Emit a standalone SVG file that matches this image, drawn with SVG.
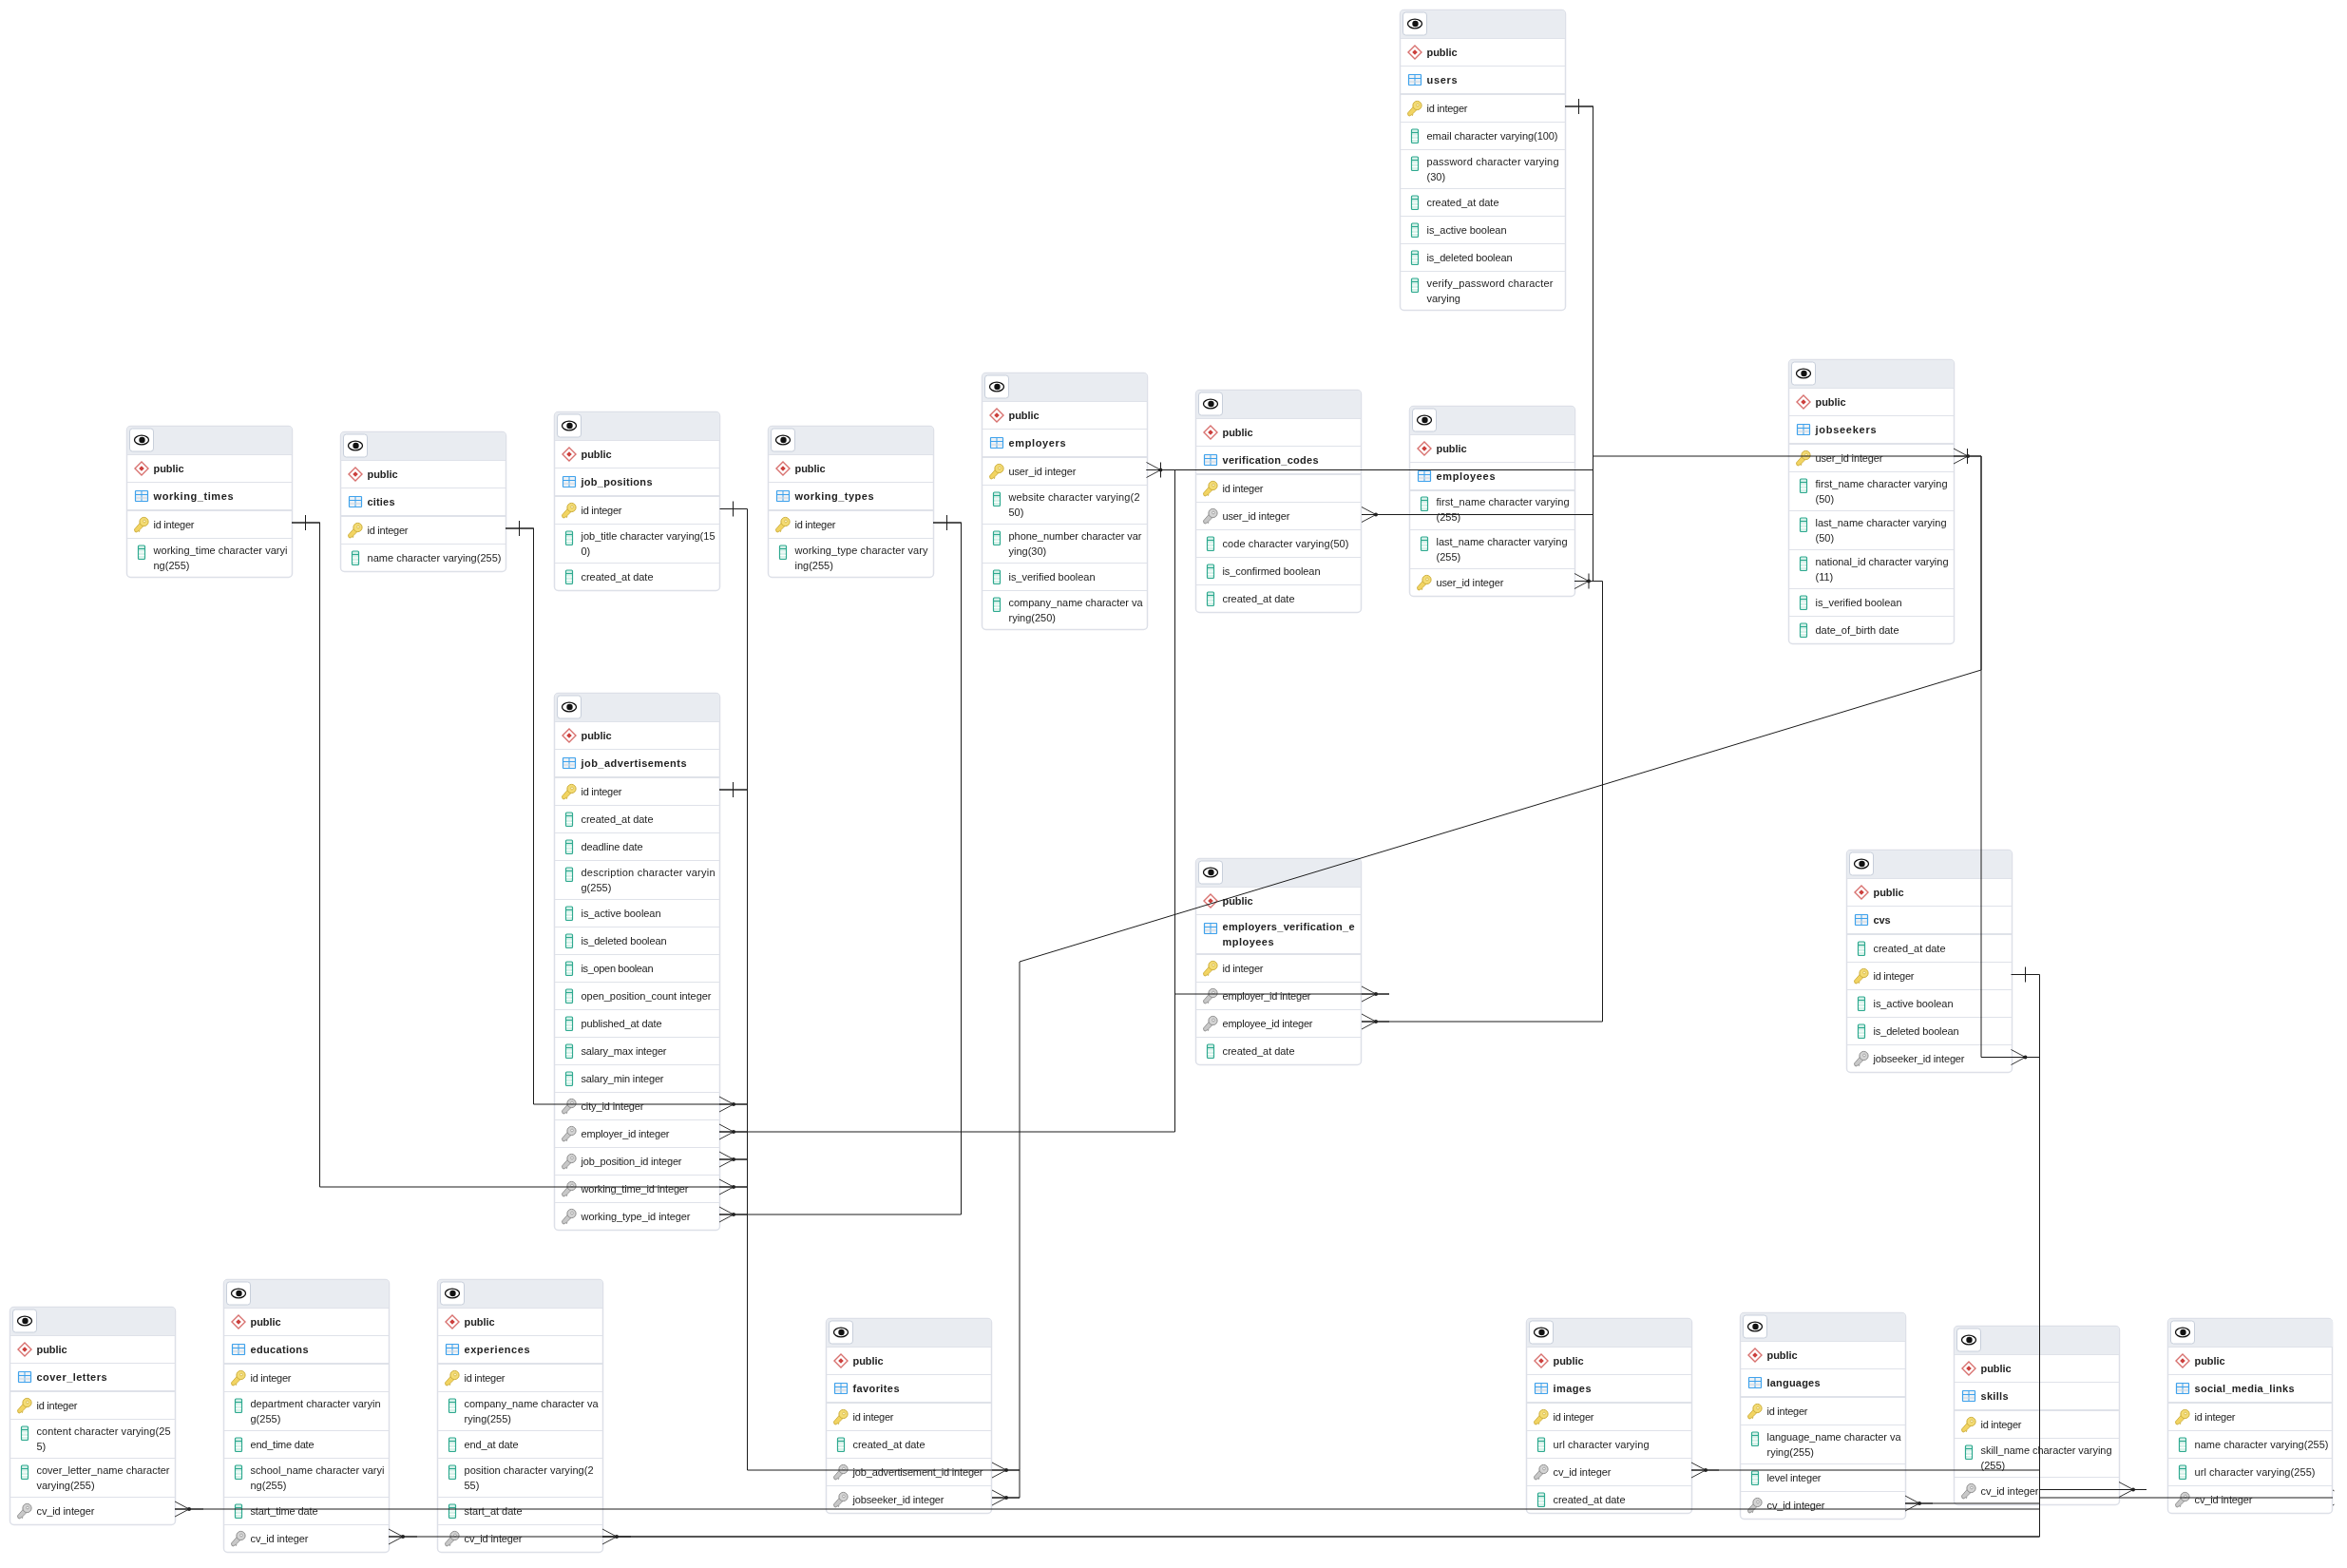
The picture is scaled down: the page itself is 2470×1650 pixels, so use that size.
<svg xmlns="http://www.w3.org/2000/svg" width="2470" height="1650" viewBox="0 0 2470 1650">
<style>
text{font-family:"Liberation Sans",Arial,sans-serif;font-size:11px;fill:#222}
.b{font-weight:700}
.box{fill:#fff;stroke:#dde0e8;stroke-width:1.5}
.hd{fill:#e9ecf1}
.eb{fill:#fff;stroke:#c8cfdb;stroke-width:1}
.sep{fill:none;stroke:#dfe2e9;stroke-width:1}
.bar{fill:#dfe2e9}
.l{fill:none;stroke:#1c1c1c;stroke-width:1}
.a{fill:none;stroke:#333;stroke-width:1}
</style>
<defs>
<g id="eye"><rect class="eb" x="-12.5" y="-12" width="25" height="24" rx="3"/><ellipse cx="0" cy="0" rx="7.5" ry="4.8" fill="#fff" stroke="#111" stroke-width="1.3"/><circle cx=".5" cy="0" r="3.2" fill="#111"/></g>
<g id="sc"><path d="M0-7L7 0L0 7L-7 0Z" fill="#fff" stroke="#d8716f" stroke-width="1.4"/><path d="M0-2.8L2.8 0L0 2.8L-2.8 0Z" fill="#cc3f3c"/></g>
<g id="tb"><rect x="-6.5" y="-5.5" width="13" height="11" rx=".5" fill="#eef2f6" stroke="#3fa2ec" stroke-width="1.2"/><path d="M-6-1.5H6M0-5V5" stroke="#3fa2ec" stroke-width="1" fill="none"/><path d="M-6 2H6" stroke="#ccd6e0" stroke-width="1"/></g>
<g id="pk"><path d="M-1-2.5L2.5 1L-2 5.5L-2.5 7.5L-4 6.5L-5 8L-7 7.5L-7.5 5Z" fill="#f2d462" stroke="#cdae3c" stroke-width=".9"/><circle cx="2.5" cy="-3" r="4.6" fill="#f4dc74" stroke="#cdae3c" stroke-width="1"/><circle cx="3" cy="-3.5" r="1.4" fill="#fff6c8" stroke="#cdae3c" stroke-width=".7"/></g>
<g id="fk"><path d="M-1-2.5L2.5 1L-2 5.5L-2.5 7.5L-4 6.5L-5 8L-7 7.5L-7.5 5Z" fill="#c8c8c8" stroke="#8e8e8e" stroke-width=".9"/><circle cx="2.5" cy="-3" r="4.6" fill="#d4d4d4" stroke="#8e8e8e" stroke-width="1"/><circle cx="3" cy="-3.5" r="1.4" fill="#f4f4f4" stroke="#8e8e8e" stroke-width=".7"/></g>
<g id="c"><rect x="-3.5" y="-7" width="7" height="14.5" rx="1" fill="#d8f2ea" stroke="#2ea98f" stroke-width="1.2"/><path d="M-3-3.5H3" stroke="#2ea98f" stroke-width="1.1"/><path d="M-3 0H3M-3 3.5H3" stroke="#fff" stroke-width="1"/></g>
<g id="crow"><path class="a" d="M0-8L15 0L0 8"/><circle cx="15" cy="0" r="2" fill="#222"/></g>
<path id="tick" class="l" d="M0-8V8"/>
<path id="top" class="hd" d="M1 4a3 3 0 0 1 3-3H171a3 3 0 0 1 3 3V30H1Z"/>
<g id="head"><use href="#top"/><use href="#eye" x="16" y="15"/><path class="sep" d="M1 30.5H174M1 59.5H174"/><use href="#sc" x="16" y="45"/><text class="b" x="28.5" y="49" textLength="32">public</text></g>
<g id="nm"><rect class="bar" x="1" y="88" width="173" height="2"/><use href="#tb" x="16" y="74"/></g>
</defs>
<rect width="2470" height="1650" fill="#fff"/>
<g opacity="0.999">

<g id="users" transform="translate(1473,10)"><rect class="box" x=".5" y=".5" width="174" height="316" rx="4"/><use href="#head"/><use href="#nm"/><text class="b" x="28.5" y="78" textLength="32">users</text>
<path class="sep" d="M1 118.5H174M1 147.5H174M1 188.5H174M1 217.5H174M1 246.5H174M1 275.5H174"/>
<use href="#pk" x="16" y="104"/><text x="28.5" y="108" textLength="43">id integer</text>
<use href="#c" x="16" y="133"/><text x="28.5" y="137" textLength="138">email character varying(100)</text>
<use href="#c" x="16" y="162"/><text x="28.5" y="164" textLength="139">password character varying</text><text x="28.5" y="180">(30)</text>
<use href="#c" x="16" y="203"/><text x="28.5" y="207" textLength="76">created_at date</text>
<use href="#c" x="16" y="232"/><text x="28.5" y="236" textLength="84">is_active boolean</text>
<use href="#c" x="16" y="261"/><text x="28.5" y="265" textLength="90">is_deleted boolean</text>
<use href="#c" x="16" y="290"/><text x="28.5" y="292" textLength="133">verify_password character</text><text x="28.5" y="308">varying</text></g>

<g id="working_times" transform="translate(133,448)"><rect class="box" x=".5" y=".5" width="174" height="159" rx="4"/><use href="#head"/><use href="#nm"/><text class="b" x="28.5" y="78" textLength="84">working_times</text>
<path class="sep" d="M1 118.5H174"/>
<use href="#pk" x="16" y="104"/><text x="28.5" y="108" textLength="43">id integer</text>
<use href="#c" x="16" y="133"/><text x="28.5" y="135" textLength="141">working_time character varyi</text><text x="28.5" y="151">ng(255)</text></g>

<g id="cities" transform="translate(358,454)"><rect class="box" x=".5" y=".5" width="174" height="147" rx="4"/><use href="#head"/><use href="#nm"/><text class="b" x="28.5" y="78" textLength="29">cities</text>
<path class="sep" d="M1 118.5H174"/>
<use href="#pk" x="16" y="104"/><text x="28.5" y="108" textLength="43">id integer</text>
<use href="#c" x="16" y="133"/><text x="28.5" y="137" textLength="141">name character varying(255)</text></g>

<g id="job_positions" transform="translate(583,433)"><rect class="box" x=".5" y=".5" width="174" height="188" rx="4"/><use href="#head"/><use href="#nm"/><text class="b" x="28.5" y="78" textLength="75">job_positions</text>
<path class="sep" d="M1 118.5H174M1 159.5H174"/>
<use href="#pk" x="16" y="104"/><text x="28.5" y="108" textLength="43">id integer</text>
<use href="#c" x="16" y="133"/><text x="28.5" y="135" textLength="141">job_title character varying(15</text><text x="28.5" y="151">0)</text>
<use href="#c" x="16" y="174"/><text x="28.5" y="178" textLength="76">created_at date</text></g>

<g id="working_types" transform="translate(808,448)"><rect class="box" x=".5" y=".5" width="174" height="159" rx="4"/><use href="#head"/><use href="#nm"/><text class="b" x="28.5" y="78" textLength="83">working_types</text>
<path class="sep" d="M1 118.5H174"/>
<use href="#pk" x="16" y="104"/><text x="28.5" y="108" textLength="43">id integer</text>
<use href="#c" x="16" y="133"/><text x="28.5" y="135" textLength="140">working_type character vary</text><text x="28.5" y="151">ing(255)</text></g>

<g id="employers" transform="translate(1033,392)"><rect class="box" x=".5" y=".5" width="174" height="270" rx="4"/><use href="#head"/><use href="#nm"/><text class="b" x="28.5" y="78" textLength="60">employers</text>
<path class="sep" d="M1 118.5H174M1 159.5H174M1 200.5H174M1 229.5H174"/>
<use href="#pk" x="16" y="104"/><text x="28.5" y="108" textLength="71">user_id integer</text>
<use href="#c" x="16" y="133"/><text x="28.5" y="135" textLength="138">website character varying(2</text><text x="28.5" y="151">50)</text>
<use href="#c" x="16" y="174"/><text x="28.5" y="176" textLength="140">phone_number character var</text><text x="28.5" y="192">ying(30)</text>
<use href="#c" x="16" y="215"/><text x="28.5" y="219" textLength="91">is_verified boolean</text>
<use href="#c" x="16" y="244"/><text x="28.5" y="246" textLength="141">company_name character va</text><text x="28.5" y="262">rying(250)</text></g>

<g id="verification_codes" transform="translate(1258,410)"><rect class="box" x=".5" y=".5" width="174" height="234" rx="4"/><use href="#head"/><use href="#nm"/><text class="b" x="28.5" y="78" textLength="101">verification_codes</text>
<path class="sep" d="M1 118.5H174M1 147.5H174M1 176.5H174M1 205.5H174"/>
<use href="#pk" x="16" y="104"/><text x="28.5" y="108" textLength="43">id integer</text>
<use href="#fk" x="16" y="133"/><text x="28.5" y="137" textLength="71">user_id integer</text>
<use href="#c" x="16" y="162"/><text x="28.5" y="166" textLength="133">code character varying(50)</text>
<use href="#c" x="16" y="191"/><text x="28.5" y="195" textLength="103">is_confirmed boolean</text>
<use href="#c" x="16" y="220"/><text x="28.5" y="224" textLength="76">created_at date</text></g>

<g id="employees" transform="translate(1483,427)"><rect class="box" x=".5" y=".5" width="174" height="200" rx="4"/><use href="#head"/><use href="#nm"/><text class="b" x="28.5" y="78" textLength="62">employees</text>
<path class="sep" d="M1 130.5H174M1 171.5H174"/>
<use href="#c" x="16" y="103"/><text x="28.5" y="105" textLength="140">first_name character varying</text><text x="28.5" y="121">(255)</text>
<use href="#c" x="16" y="145"/><text x="28.5" y="147" textLength="138">last_name character varying</text><text x="28.5" y="163">(255)</text>
<use href="#pk" x="16" y="186"/><text x="28.5" y="190" textLength="71">user_id integer</text></g>

<g id="jobseekers" transform="translate(1882,378)"><rect class="box" x=".5" y=".5" width="174" height="299" rx="4"/><use href="#head"/><use href="#nm"/><text class="b" x="28.5" y="78" textLength="64">jobseekers</text>
<path class="sep" d="M1 118.5H174M1 159.5H174M1 200.5H174M1 241.5H174M1 270.5H174"/>
<use href="#pk" x="16" y="104"/><text x="28.5" y="108" textLength="71">user_id integer</text>
<use href="#c" x="16" y="133"/><text x="28.5" y="135" textLength="139">first_name character varying</text><text x="28.5" y="151">(50)</text>
<use href="#c" x="16" y="174"/><text x="28.5" y="176" textLength="138">last_name character varying</text><text x="28.5" y="192">(50)</text>
<use href="#c" x="16" y="215"/><text x="28.5" y="217" textLength="140">national_id character varying</text><text x="28.5" y="233">(11)</text>
<use href="#c" x="16" y="256"/><text x="28.5" y="260" textLength="91">is_verified boolean</text>
<use href="#c" x="16" y="285"/><text x="28.5" y="289" textLength="88">date_of_birth date</text></g>

<g id="job_advertisements" transform="translate(583,729)"><rect class="box" x=".5" y=".5" width="174" height="565" rx="4"/><use href="#head"/><use href="#nm"/><text class="b" x="28.5" y="78" textLength="111">job_advertisements</text>
<path class="sep" d="M1 118.5H174M1 147.5H174M1 176.5H174M1 217.5H174M1 246.5H174M1 275.5H174M1 304.5H174M1 333.5H174M1 362.5H174M1 391.5H174M1 420.5H174M1 449.5H174M1 478.5H174M1 507.5H174M1 536.5H174"/>
<use href="#pk" x="16" y="104"/><text x="28.5" y="108" textLength="43">id integer</text>
<use href="#c" x="16" y="133"/><text x="28.5" y="137" textLength="76">created_at date</text>
<use href="#c" x="16" y="162"/><text x="28.5" y="166" textLength="65">deadline date</text>
<use href="#c" x="16" y="191"/><text x="28.5" y="193" textLength="141">description character varyin</text><text x="28.5" y="209">g(255)</text>
<use href="#c" x="16" y="232"/><text x="28.5" y="236" textLength="84">is_active boolean</text>
<use href="#c" x="16" y="261"/><text x="28.5" y="265" textLength="90">is_deleted boolean</text>
<use href="#c" x="16" y="290"/><text x="28.5" y="294" textLength="76">is_open boolean</text>
<use href="#c" x="16" y="319"/><text x="28.5" y="323" textLength="137">open_position_count integer</text>
<use href="#c" x="16" y="348"/><text x="28.5" y="352" textLength="85">published_at date</text>
<use href="#c" x="16" y="377"/><text x="28.5" y="381" textLength="90">salary_max integer</text>
<use href="#c" x="16" y="406"/><text x="28.5" y="410" textLength="87">salary_min integer</text>
<use href="#fk" x="16" y="435"/><text x="28.5" y="439" textLength="66">city_id integer</text>
<use href="#fk" x="16" y="464"/><text x="28.5" y="468" textLength="93">employer_id integer</text>
<use href="#fk" x="16" y="493"/><text x="28.5" y="497" textLength="106">job_position_id integer</text>
<use href="#fk" x="16" y="522"/><text x="28.5" y="526" textLength="113">working_time_id integer</text>
<use href="#fk" x="16" y="551"/><text x="28.5" y="555" textLength="115">working_type_id integer</text></g>

<g id="employers_verification_employees" transform="translate(1258,903)"><rect class="box" x=".5" y=".5" width="174" height="217" rx="4"/><use href="#head"/><rect class="bar" x="1" y="100" width="173" height="2"/><use href="#tb" x="16" y="74"/><text class="b" x="28.5" y="76" textLength="139">employers_verification_e</text><text class="b" x="28.5" y="92" textLength="54">mployees</text>
<path class="sep" d="M1 130.5H174M1 159.5H174M1 188.5H174"/>
<use href="#pk" x="16" y="116"/><text x="28.5" y="120" textLength="43">id integer</text>
<use href="#fk" x="16" y="145"/><text x="28.5" y="149" textLength="93">employer_id integer</text>
<use href="#fk" x="16" y="174"/><text x="28.5" y="178" textLength="95">employee_id integer</text>
<use href="#c" x="16" y="203"/><text x="28.5" y="207" textLength="76">created_at date</text></g>

<g id="cvs" transform="translate(1943,894)"><rect class="box" x=".5" y=".5" width="174" height="234" rx="4"/><use href="#head"/><use href="#nm"/><text class="b" x="28.5" y="78" textLength="18">cvs</text>
<path class="sep" d="M1 118.5H174M1 147.5H174M1 176.5H174M1 205.5H174"/>
<use href="#c" x="16" y="104"/><text x="28.5" y="108" textLength="76">created_at date</text>
<use href="#pk" x="16" y="133"/><text x="28.5" y="137" textLength="43">id integer</text>
<use href="#c" x="16" y="162"/><text x="28.5" y="166" textLength="84">is_active boolean</text>
<use href="#c" x="16" y="191"/><text x="28.5" y="195" textLength="90">is_deleted boolean</text>
<use href="#fk" x="16" y="220"/><text x="28.5" y="224" textLength="96">jobseeker_id integer</text></g>

<g id="cover_letters" transform="translate(10,1375)"><rect class="box" x=".5" y=".5" width="174" height="229" rx="4"/><use href="#head"/><use href="#nm"/><text class="b" x="28.5" y="78" textLength="74">cover_letters</text>
<path class="sep" d="M1 118.5H174M1 159.5H174M1 200.5H174"/>
<use href="#pk" x="16" y="104"/><text x="28.5" y="108" textLength="43">id integer</text>
<use href="#c" x="16" y="133"/><text x="28.5" y="135" textLength="141">content character varying(25</text><text x="28.5" y="151">5)</text>
<use href="#c" x="16" y="174"/><text x="28.5" y="176" textLength="140">cover_letter_name character</text><text x="28.5" y="192">varying(255)</text>
<use href="#fk" x="16" y="215"/><text x="28.5" y="219" textLength="61">cv_id integer</text></g>

<g id="educations" transform="translate(235,1346)"><rect class="box" x=".5" y=".5" width="174" height="287" rx="4"/><use href="#head"/><use href="#nm"/><text class="b" x="28.5" y="78" textLength="61">educations</text>
<path class="sep" d="M1 118.5H174M1 159.5H174M1 188.5H174M1 229.5H174M1 258.5H174"/>
<use href="#pk" x="16" y="104"/><text x="28.5" y="108" textLength="43">id integer</text>
<use href="#c" x="16" y="133"/><text x="28.5" y="135" textLength="137">department character varyin</text><text x="28.5" y="151">g(255)</text>
<use href="#c" x="16" y="174"/><text x="28.5" y="178" textLength="67">end_time date</text>
<use href="#c" x="16" y="203"/><text x="28.5" y="205" textLength="141">school_name character varyi</text><text x="28.5" y="221">ng(255)</text>
<use href="#c" x="16" y="244"/><text x="28.5" y="248" textLength="71">start_time date</text>
<use href="#fk" x="16" y="273"/><text x="28.5" y="277" textLength="61">cv_id integer</text></g>

<g id="experiences" transform="translate(460,1346)"><rect class="box" x=".5" y=".5" width="174" height="287" rx="4"/><use href="#head"/><use href="#nm"/><text class="b" x="28.5" y="78" textLength="69">experiences</text>
<path class="sep" d="M1 118.5H174M1 159.5H174M1 188.5H174M1 229.5H174M1 258.5H174"/>
<use href="#pk" x="16" y="104"/><text x="28.5" y="108" textLength="43">id integer</text>
<use href="#c" x="16" y="133"/><text x="28.5" y="135" textLength="141">company_name character va</text><text x="28.5" y="151">rying(255)</text>
<use href="#c" x="16" y="174"/><text x="28.5" y="178" textLength="57">end_at date</text>
<use href="#c" x="16" y="203"/><text x="28.5" y="205" textLength="136">position character varying(2</text><text x="28.5" y="221">55)</text>
<use href="#c" x="16" y="244"/><text x="28.5" y="248" textLength="61">start_at date</text>
<use href="#fk" x="16" y="273"/><text x="28.5" y="277" textLength="61">cv_id integer</text></g>

<g id="favorites" transform="translate(869,1387)"><rect class="box" x=".5" y=".5" width="174" height="205" rx="4"/><use href="#head"/><use href="#nm"/><text class="b" x="28.5" y="78" textLength="49">favorites</text>
<path class="sep" d="M1 118.5H174M1 147.5H174M1 176.5H174"/>
<use href="#pk" x="16" y="104"/><text x="28.5" y="108" textLength="43">id integer</text>
<use href="#c" x="16" y="133"/><text x="28.5" y="137" textLength="76">created_at date</text>
<use href="#fk" x="16" y="162"/><text x="28.5" y="166" textLength="137">job_advertisement_id integer</text>
<use href="#fk" x="16" y="191"/><text x="28.5" y="195" textLength="96">jobseeker_id integer</text></g>

<g id="images" transform="translate(1606,1387)"><rect class="box" x=".5" y=".5" width="174" height="205" rx="4"/><use href="#head"/><use href="#nm"/><text class="b" x="28.5" y="78" textLength="40">images</text>
<path class="sep" d="M1 118.5H174M1 147.5H174M1 176.5H174"/>
<use href="#pk" x="16" y="104"/><text x="28.5" y="108" textLength="43">id integer</text>
<use href="#c" x="16" y="133"/><text x="28.5" y="137" textLength="101">url character varying</text>
<use href="#fk" x="16" y="162"/><text x="28.5" y="166" textLength="61">cv_id integer</text>
<use href="#c" x="16" y="191"/><text x="28.5" y="195" textLength="76">created_at date</text></g>

<g id="languages" transform="translate(1831,1381)"><rect class="box" x=".5" y=".5" width="174" height="217" rx="4"/><use href="#head"/><use href="#nm"/><text class="b" x="28.5" y="78" textLength="56">languages</text>
<path class="sep" d="M1 118.5H174M1 159.5H174M1 188.5H174"/>
<use href="#pk" x="16" y="104"/><text x="28.5" y="108" textLength="43">id integer</text>
<use href="#c" x="16" y="133"/><text x="28.5" y="135" textLength="141">language_name character va</text><text x="28.5" y="151">rying(255)</text>
<use href="#c" x="16" y="174"/><text x="28.5" y="178" textLength="57">level integer</text>
<use href="#fk" x="16" y="203"/><text x="28.5" y="207" textLength="61">cv_id integer</text></g>

<g id="skills" transform="translate(2056,1395)"><rect class="box" x=".5" y=".5" width="174" height="188" rx="4"/><use href="#head"/><use href="#nm"/><text class="b" x="28.5" y="78" textLength="29">skills</text>
<path class="sep" d="M1 118.5H174M1 159.5H174"/>
<use href="#pk" x="16" y="104"/><text x="28.5" y="108" textLength="43">id integer</text>
<use href="#c" x="16" y="133"/><text x="28.5" y="135" textLength="138">skill_name character varying</text><text x="28.5" y="151">(255)</text>
<use href="#fk" x="16" y="174"/><text x="28.5" y="178" textLength="61">cv_id integer</text></g>

<g id="social_media_links" transform="translate(2281,1387)"><rect class="box" x=".5" y=".5" width="173" height="205" rx="4"/><use href="#head"/><use href="#nm"/><text class="b" x="28.5" y="78" textLength="105">social_media_links</text>
<path class="sep" d="M1 118.5H173M1 147.5H173M1 176.5H173"/>
<use href="#pk" x="16" y="104"/><text x="28.5" y="108" textLength="43">id integer</text>
<use href="#c" x="16" y="133"/><text x="28.5" y="137" textLength="141">name character varying(255)</text>
<use href="#c" x="16" y="162"/><text x="28.5" y="166" textLength="127">url character varying(255)</text>
<use href="#fk" x="16" y="191"/><text x="28.5" y="195" textLength="61">cv_id integer</text></g>
</g>

<g id="connectors">
<path class="l" d="M1647 112H1676.5V611.5H1657M1676.5 494.5H1206.5M1676.5 541.5H1433M1676.5 480H2085M1647 112H1677M2056 480H2085"/>
<path class="l" d="M1206.5 494.5H1236.5V1191M1236.5 1191H757M757 1191H786M1236.5 1046H1462M1433 1046H1462"/>
<path class="l" d="M1657 611.5H1686.5V1075H1433M1433 1075H1462"/>
<path class="l" d="M2085 480V1112.5H2146.5"/>
<path class="l" d="M2085 480V705L1073 1012V1576H1044M1044 1576H1073"/>
<path class="l" d="M2116.5 1025.5H2146.5V1617"/>
<path class="l" d="M2146.5 1547H1780M1780 1547H1809M2146.5 1582H2005M2005 1582H2034M2146.5 1588H184M184 1588H214M2146.5 1617H409M409 1617H439M2146.5 1617H634M634 1617H664M2146.5 1567.5H2259M2146.5 1576H2455"/>
<path class="a" d="M2455 1568L2456.5 1568.8M2455 1584L2456.5 1583.2"/>
<path class="l" d="M757.5 535.5H786.5V1547M786.5 1220H757M757 1220H786"/>
<path class="l" d="M757 831H786.5M757 831H787M786.5 1547H1073M1044 1547H1073"/>
<path class="l" d="M532 556H561.5V1162H786M532 556H562M757 1162H786"/>
<path class="l" d="M307 550H336.5V1249H786M307 550H337M757 1249H786"/>
<path class="l" d="M982 550H1011.5V1278H757M982 550H1012M757 1278H786"/>
<use href="#tick" x="1661.5" y="112"/><use href="#tick" x="321.5" y="550"/><use href="#tick" x="546.5" y="556"/><use href="#tick" x="771.5" y="535.5"/><use href="#tick" x="996.5" y="550"/><use href="#tick" x="771.5" y="831"/><use href="#tick" x="2131.5" y="1025.5"/><use href="#tick" x="1221.5" y="494.5"/><use href="#tick" x="1672" y="611.5"/><use href="#tick" x="2070.5" y="480"/>
<use href="#crow" x="1206.5" y="494.5"/><use href="#crow" x="1433" y="541.5"/><use href="#crow" x="1657" y="611.5"/><use href="#crow" x="2056" y="480"/>
<use href="#crow" x="757" y="1162"/><use href="#crow" x="757" y="1191"/><use href="#crow" x="757" y="1220"/><use href="#crow" x="757" y="1249"/><use href="#crow" x="757" y="1278"/>
<use href="#crow" x="1433" y="1046"/><use href="#crow" x="1433" y="1075"/><use href="#crow" x="2116.5" y="1112.5"/>
<use href="#crow" x="1044" y="1547"/><use href="#crow" x="1044" y="1576"/><use href="#crow" x="1780" y="1547"/><use href="#crow" x="2005" y="1582"/><use href="#crow" x="2230" y="1567.5"/>
<use href="#crow" x="184" y="1588"/><use href="#crow" x="409" y="1617"/><use href="#crow" x="634" y="1617"/>
</g>
</svg>
